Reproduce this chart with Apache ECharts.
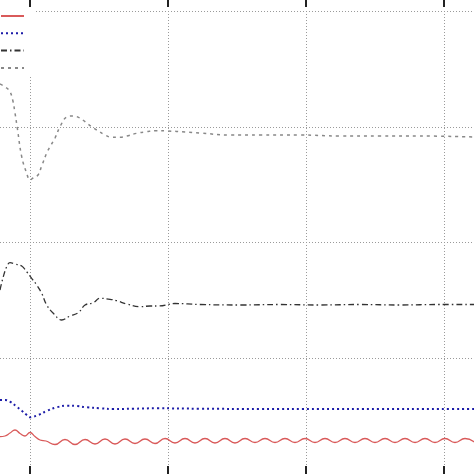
<!DOCTYPE html>
<html>
<head>
<meta charset="utf-8">
<script src="https://cdn.jsdelivr.net/npm/echarts@6/dist/echarts.min.js"></script>
<style>html,body{margin:0;padding:0;background:#fff;}#c{width:474px;height:474px;}</style>
</head>
<body>
<div id="c"></div>
<script>
// x: time (grid every 1), y: response (grid every 1)
const xTicks = [0, 1, 2, 3, 4, 5];
const yTicks = [0, 1, 2, 3, 4];
const seriesNames = ['Case 1', 'Case 2', 'Case 3', 'Case 4'];

const redPoints = [
  [0.7826,0.3222],[0.8188,0.3283],[0.8551,0.3542],[0.8913,0.3801],[0.9275,0.3499],
  [0.9638,0.3283],[1.0,0.3585],[1.0362,0.324],[1.0725,0.2937],[1.1159,0.2851],
  [1.1812,0.2549],[1.2536,0.2981],[1.3261,0.2549],[1.3986,0.2981],[1.471,0.2592],
  [1.5435,0.3024],[1.6159,0.2592],[1.6884,0.3024],[1.7609,0.2635],[1.8333,0.3024],
  [1.9058,0.2635],[1.9783,0.3067],[2.0507,0.2678],[2.1232,0.3067],[2.1957,0.2678],
  [2.2681,0.3067],[2.3406,0.2678],[2.413,0.3067],[2.4855,0.2678],[2.558,0.3067],
  [2.6304,0.2721],[2.7029,0.3067],[2.7754,0.2721],[2.8478,0.3067],[2.9203,0.2721],
  [2.9928,0.3067],[3.0652,0.2721],[3.1377,0.3067],[3.2101,0.2721],[3.2826,0.3067],
  [3.3551,0.2721],[3.4275,0.3067],[3.5,0.2721],[3.5725,0.3067],[3.6449,0.2721],
  [3.7174,0.3067],[3.7899,0.2721],[3.8623,0.3067],[3.9348,0.2721],[4.0072,0.3067],
  [4.0797,0.2721],[4.1522,0.3067],[4.2246,0.2721]
];

const bluePoints = [
  [0.7826,0.6393],[0.8188,0.6393],[0.8551,0.6246],[0.9036,0.5814],[0.9399,0.5469],
  [0.9761,0.5097],[1.0,0.4898],[1.0239,0.495],[1.0601,0.5097],[1.121,0.5443],
  [1.1935,0.5762],[1.2659,0.5901],[1.3384,0.5875],[1.4109,0.5762],[1.5072,0.5676],
  [1.6036,0.5616],[1.7486,0.5641],[1.9181,0.5676],[2.2319,0.5641],[2.6667,0.5616],
  [3.1014,0.5616],[3.5362,0.5616],[3.971,0.5616],[4.2174,0.5616]
];

const blackPoints = [
  [0.7826,1.5896],[0.8065,1.7045],[0.8312,1.7909],[0.8551,1.8255],[0.8913,1.8143],
  [0.9399,1.797],[0.9761,1.7477],[1.0123,1.6907],[1.0486,1.6328],[1.0848,1.5611],
  [1.121,1.46],[1.1688,1.3883],[1.2297,1.3305],[1.2899,1.365],[1.35,1.3935],
  [1.3986,1.46],[1.4587,1.4799],[1.5072,1.5179],[1.5797,1.5093],[1.6283,1.4972],
  [1.7007,1.4687],[1.7971,1.4454],[1.8696,1.4514],[1.9297,1.4514],[2.0507,1.473],
  [2.2319,1.4644],[2.5217,1.46],[2.8116,1.4644],[3.1014,1.46],[3.3913,1.4644],
  [3.6812,1.46],[3.971,1.4644],[4.2174,1.4644]
];

const grayPoints = [
  [0.7826,3.3693],[0.8312,3.3348],[0.8551,3.3028],[0.8746,3.2311],[0.8913,3.1188],
  [0.908,2.9892],[0.9399,2.7413],[0.9761,2.5978],[1.0,2.54],[1.0217,2.5572],
  [1.058,2.5832],[1.0848,2.6609],[1.121,2.7732],[1.1449,2.8276],[1.1812,2.9028],
  [1.2174,3.0004],[1.2659,3.0842],[1.3116,3.0929],[1.3623,3.0756],[1.3986,3.0436],
  [1.4471,3.0004],[1.4833,2.9719],[1.5435,2.9287],[1.592,2.9089],[1.6522,2.9089],
  [1.7007,2.9201],[1.7732,2.9434],[1.8457,2.9572],[1.9058,2.9659],[2.0,2.9633],
  [2.1232,2.9546],[2.2319,2.946],[2.4493,2.9287],[2.6667,2.9287],[2.9565,2.9287],
  [3.2464,2.9201],[3.5362,2.9201],[3.8261,2.9201],[4.2174,2.9114]
];

const chart = echarts.init(document.getElementById('c'), null, {renderer: 'canvas'});
const tickStyle = {show: true, inside: true, length: 8, lineStyle: {color: '#222', width: 2}};
const splitStyle = {show: true, lineStyle: {color: '#9a9a9a', width: 1, type: [1, 2]}};
chart.setOption({
  animation: false,
  backgroundColor: '#fff',
  grid: {left: -108, right: -108, top: 11, bottom: 0, containLabel: false, outerBoundsMode: 'none'},
  legend: {
    show: true, orient: 'vertical', left: 0, top: 0, z: 5,
    padding: [9, 9, 2, 0], itemGap: 4.7, itemWidth: 23, itemHeight: 14,
    backgroundColor: '#fff', formatter: function () { return ''; },
    itemStyle: {opacity: 0},
    data: seriesNames
  },
  xAxis: [
    {type: 'value', position: 'bottom', min: xTicks[0], max: xTicks[xTicks.length - 1], interval: 1,
     axisLine: {show: false}, axisTick: tickStyle, axisLabel: {show: false}, splitLine: splitStyle},
    {type: 'value', position: 'top', offset: 11, min: xTicks[0], max: xTicks[xTicks.length - 1], interval: 1,
     axisLine: {show: false}, axisTick: Object.assign({}, tickStyle, {length: 7}), axisLabel: {show: false},
     splitLine: {show: false}, z: 10}
  ],
  yAxis: {type: 'value', min: yTicks[0], max: yTicks[yTicks.length - 1], interval: 1,
    axisLine: {show: false}, axisTick: {show: false}, axisLabel: {show: false}, splitLine: splitStyle},
  series: [
    {name: seriesNames[0], type: 'line', data: redPoints, smooth: 0.5, symbol: 'none', clip: false,
     lineStyle: {color: '#d95a5a', width: 1.3, type: 'solid'}, itemStyle: {color: '#d95a5a'}},
    {name: seriesNames[1], type: 'line', data: bluePoints, smooth: 0.4, symbol: 'none', clip: false,
     lineStyle: {color: '#1c1ca8', width: 2, type: [2, 3]}, itemStyle: {color: '#1c1ca8'}},
    {name: seriesNames[2], type: 'line', data: blackPoints, smooth: 0.4, symbol: 'none', clip: false,
     lineStyle: {color: '#333333', width: 1.3, type: [6, 3, 1.5, 3]}, itemStyle: {color: '#333333'}},
    {name: seriesNames[3], type: 'line', data: grayPoints, smooth: 0.4, symbol: 'none', clip: false,
     lineStyle: {color: '#888888', width: 1.5, type: [3, 4]}, itemStyle: {color: '#888888'}}
  ]
});
</script>
</body>
</html>
